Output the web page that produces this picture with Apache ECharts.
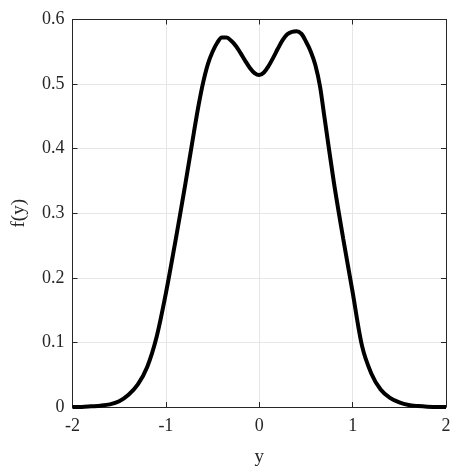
<!DOCTYPE html>
<html><head><meta charset="utf-8">
<script src="https://cdn.jsdelivr.net/npm/echarts@6/dist/echarts.min.js"></script>
<style>html,body{margin:0;padding:0;background:#fff}#c{width:474px;height:474px}</style>
</head><body><div id="c"></div>
<script>
const xValues = [-2.0,-1.9,-1.8,-1.7,-1.6,-1.5,-1.4,-1.3,-1.2,-1.1,-1.0,-0.9,-0.8,-0.7,-0.65,-0.6,-0.55,-0.5,-0.45,-0.4,-0.35,-0.3,-0.25,-0.2,-0.15,-0.1,-0.05,0.0,0.05,0.1,0.15,0.2,0.25,0.3,0.35,0.4,0.45,0.5,0.55,0.6,0.65,0.7,0.8,0.9,1.0,1.1,1.2,1.3,1.4,1.5,1.6,1.7,1.8,1.9,2.0];
const fValues = [0.000,0.000,0.001,0.002,0.004,0.009,0.019,0.035,0.062,0.108,0.176,0.255,0.338,0.425,0.467,0.503,0.531,0.550,0.564,0.572,0.572,0.567,0.559,0.548,0.536,0.525,0.517,0.514,0.518,0.528,0.541,0.555,0.568,0.577,0.581,0.582,0.578,0.566,0.551,0.530,0.497,0.447,0.347,0.260,0.178,0.095,0.052,0.027,0.014,0.007,0.003,0.0015,0.0005,0.000,0.000];
const xTicks = [-2,-1,0,1,2];
const yTicks = [0,0.1,0.2,0.3,0.4,0.5,0.6];

const font = 'Liberation Serif';
const axisColor = '#262626';
const chart = echarts.init(document.getElementById('c'), null, {renderer:'canvas'});
const data = xValues.map((x,i)=>[x,fValues[i]]);
const baseAxis = {
  axisLine:{show:true,onZero:false,lineStyle:{color:axisColor,width:1}},
  axisTick:{show:true,inside:true,length:5,lineStyle:{color:axisColor}}
};
chart.setOption({
  animation:false,
  backgroundColor:'#fff',
  grid:{left:72.5,right:28,top:19.5,bottom:67,containLabel:false},
  xAxis:[Object.assign({
    type:'value',min:xTicks[0],max:xTicks[xTicks.length-1],interval:1,
    name:'y',nameLocation:'middle',nameGap:41,
    nameTextStyle:{fontFamily:font,fontSize:19,color:axisColor},
    axisLabel:{fontFamily:font,fontSize:18,color:axisColor,margin:10,formatter:v=>String(v)},
    splitLine:{show:true,lineStyle:{color:'#e6e6e6',width:1}}
  },baseAxis),Object.assign({
    type:'value',min:xTicks[0],max:xTicks[xTicks.length-1],interval:1,position:'top',
    axisLabel:{show:false},splitLine:{show:false}
  },baseAxis)],
  yAxis:[Object.assign({
    type:'value',min:yTicks[0],max:yTicks[yTicks.length-1],interval:0.1,
    name:'f(y)',nameLocation:'middle',nameGap:44,nameRotate:90,
    nameTextStyle:{fontFamily:font,fontSize:19,color:axisColor},
    axisLabel:{fontFamily:font,fontSize:18,color:axisColor,margin:8,formatter:v=>String(+v.toFixed(1))},
    splitLine:{show:true,lineStyle:{color:'#e6e6e6',width:1}}
  },baseAxis),Object.assign({
    type:'value',min:yTicks[0],max:yTicks[yTicks.length-1],interval:0.1,position:'right',
    axisLabel:{show:false},splitLine:{show:false}
  },baseAxis)],
  series:[{
    type:'line',data:data,smooth:0.3,showSymbol:false,
    lineStyle:{color:'#000',width:4},
    xAxisIndex:0,yAxisIndex:0,clip:false
  }]
});
</script></body></html>
